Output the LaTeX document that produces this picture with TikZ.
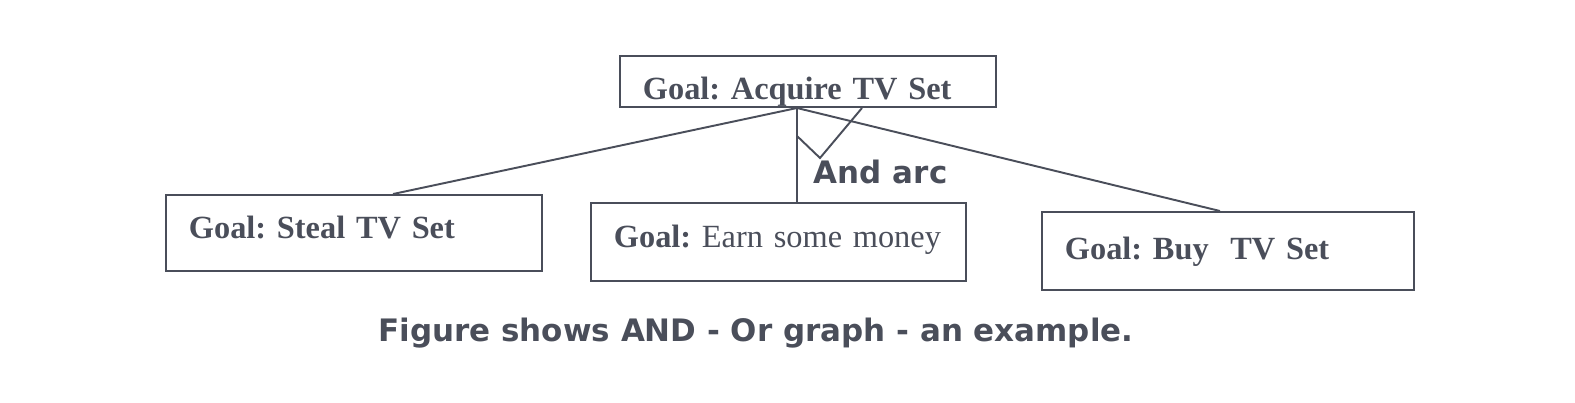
\documentclass[tikz,border=0pt]{standalone}
\usepackage{fontspec}
\setmainfont{Liberation Serif}
\setsansfont{DejaVu Sans}
\usepackage{xcolor}
\usetikzlibrary{positioning,calc}
\definecolor{ink}{HTML}{4A4E5A}
\frenchspacing

\begin{document}
\begin{tikzpicture}[x=0.01cm, y=-0.01cm, line width=0.55pt, color=ink,
    goalbox/.style={draw=ink, text=ink, inner xsep=0.23cm, inner ysep=0pt,
        align=left, font=\fontsize{9.2}{11}\selectfont},
    notetext/.style={text=ink, inner sep=0pt, font=\fontsize{8.8}{10}\selectfont\sffamily\bfseries}]
    \useasboundingbox (0,0) rectangle (1575,402);

    % Goal boxes
    \node[goalbox, text width=3.30cm, minimum width=3.76cm, minimum height=0.51cm,
        text height=0.35cm, text depth=0cm] (acquire) at (808,81.5) {\mbox{\textbf{Goal: Acquire TV Set}}};
    \node[goalbox, text width=3.30cm, minimum width=3.76cm, minimum height=0.76cm,
        text height=0.22cm, text depth=0.12cm] (steal) at (354,233) {\mbox{\textbf{Goal: Steal TV Set}}};
    \node[goalbox, text width=3.29cm, minimum width=3.75cm, minimum height=0.78cm,
        text height=0.22cm, text depth=0.12cm] (earn) at (778.5,242) {\mbox{\textbf{Goal:} Earn some money}};
    \node[goalbox, text width=3.26cm, minimum width=3.72cm, minimum height=0.78cm,
        text height=0.24cm, text depth=0.08cm] (buy) at (1228,251) {\mbox{\textbf{Goal: Buy\ \ TV Set}}};

    % Connectors
    \coordinate (fork) at ($(acquire.south)+(-11,0)$);
    \draw (fork) -- ($(steal.north)+(39,0)$);
    \draw (fork) -- (fork |- earn.north);
    \draw (fork) -- ($(buy.north)+(-8,0)$);

    % And arc
    \coordinate (andL) at ($(fork)+(0,28)$);
    \coordinate (andV) at ($(fork)+(23,50)$);
    \coordinate (andR) at ($(fork)+(65,0)$);
    \draw (andL) -- (andV) -- (andR);
    \node[notetext, anchor=base west] (andarc) at (813,183) {And arc};

    \node[notetext, anchor=base] (caption) at (756,341) {Figure shows AND - Or graph - an example.};
\end{tikzpicture}
\end{document}
